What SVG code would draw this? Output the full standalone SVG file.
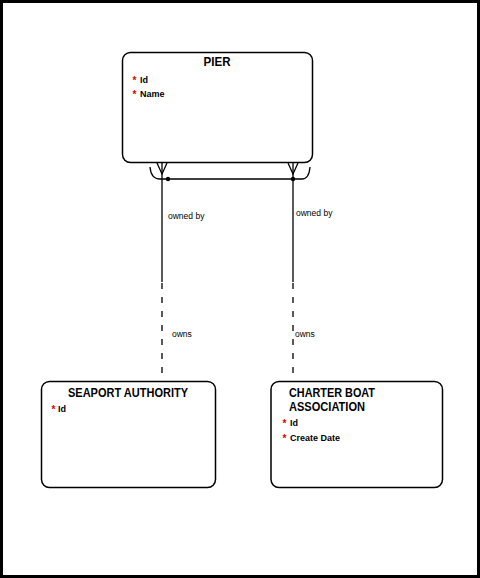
<svg xmlns="http://www.w3.org/2000/svg" width="480" height="578" viewBox="0 0 480 578">
<style>
.box{fill:#fff;stroke:#000;stroke-width:1.5}
.title{font-family:"Liberation Sans",Arial,sans-serif;font-weight:bold;font-size:12.5px;fill:#000}
.attr{font-family:"Liberation Sans",Arial,sans-serif;font-weight:bold;font-size:9px;fill:#000}
.star{font-family:"Liberation Sans",Arial,sans-serif;font-weight:bold;font-size:10px;fill:#d00}
.lbl{font-family:"Liberation Sans",Arial,sans-serif;font-size:8.5px;fill:#000}
.ln{fill:none;stroke:#000;stroke-width:1.3}
.dash{fill:none;stroke:#000;stroke-width:1.3;stroke-dasharray:6 8}
</style>
<rect x="0" y="0" width="480" height="578" fill="#fff"/>
<rect x="1.5" y="1.5" width="477" height="575" fill="none" stroke="#000" stroke-width="3"/>
<g id="connectors">
<line class="ln" x1="162" y1="163" x2="162" y2="282"/>
<line class="dash" x1="162" y1="283" x2="162" y2="382"/>
<line class="ln" x1="293" y1="163" x2="293" y2="282"/>
<line class="dash" x1="293" y1="283" x2="293" y2="382"/>
<path class="ln" d="M157,163 L162,174 L167,163"/>
<path class="ln" d="M288,163 L293,174 L298,163"/>
<path class="ln" d="M150,167 Q151,179 160,179 L302,179 Q309,179 310,167"/>
<circle cx="168" cy="179" r="2.2" fill="#000"/>
<circle cx="293" cy="179" r="2.2" fill="#000"/>
<text class="lbl" x="168" y="219">owned by</text>
<text class="lbl" x="296" y="216">owned by</text>
<text class="lbl" x="172" y="337">owns</text>
<text class="lbl" x="295" y="337">owns</text>
</g>
<g id="pier">
<rect class="box" x="122.5" y="52.5" width="190" height="110" rx="8"/>
<text class="title" x="217" y="66" text-anchor="middle" textLength="27" lengthAdjust="spacingAndGlyphs">PIER</text>
<text class="star" x="132.5" y="84">*</text>
<text class="attr" x="140" y="83">Id</text>
<text class="star" x="132.5" y="98">*</text>
<text class="attr" x="140" y="97">Name</text>
</g>
<g id="seaport-authority">
<rect class="box" x="41.5" y="381.5" width="174" height="106" rx="8"/>
<text class="title" x="68" y="397" textLength="120" lengthAdjust="spacingAndGlyphs">SEAPORT AUTHORITY</text>
<text class="star" x="51.5" y="413">*</text>
<text class="attr" x="58" y="412">Id</text>
</g>
<g id="charter-boat-association">
<rect class="box" x="271" y="381.5" width="171.5" height="106" rx="8"/>
<text class="title" x="289" y="396.5" textLength="86" lengthAdjust="spacingAndGlyphs">CHARTER BOAT</text>
<text class="title" x="289" y="410.5" textLength="76" lengthAdjust="spacingAndGlyphs">ASSOCIATION</text>
<text class="star" x="282.5" y="427">*</text>
<text class="attr" x="290" y="426">Id</text>
<text class="star" x="282.5" y="442">*</text>
<text class="attr" x="290" y="441">Create Date</text>
</g>
</svg>
